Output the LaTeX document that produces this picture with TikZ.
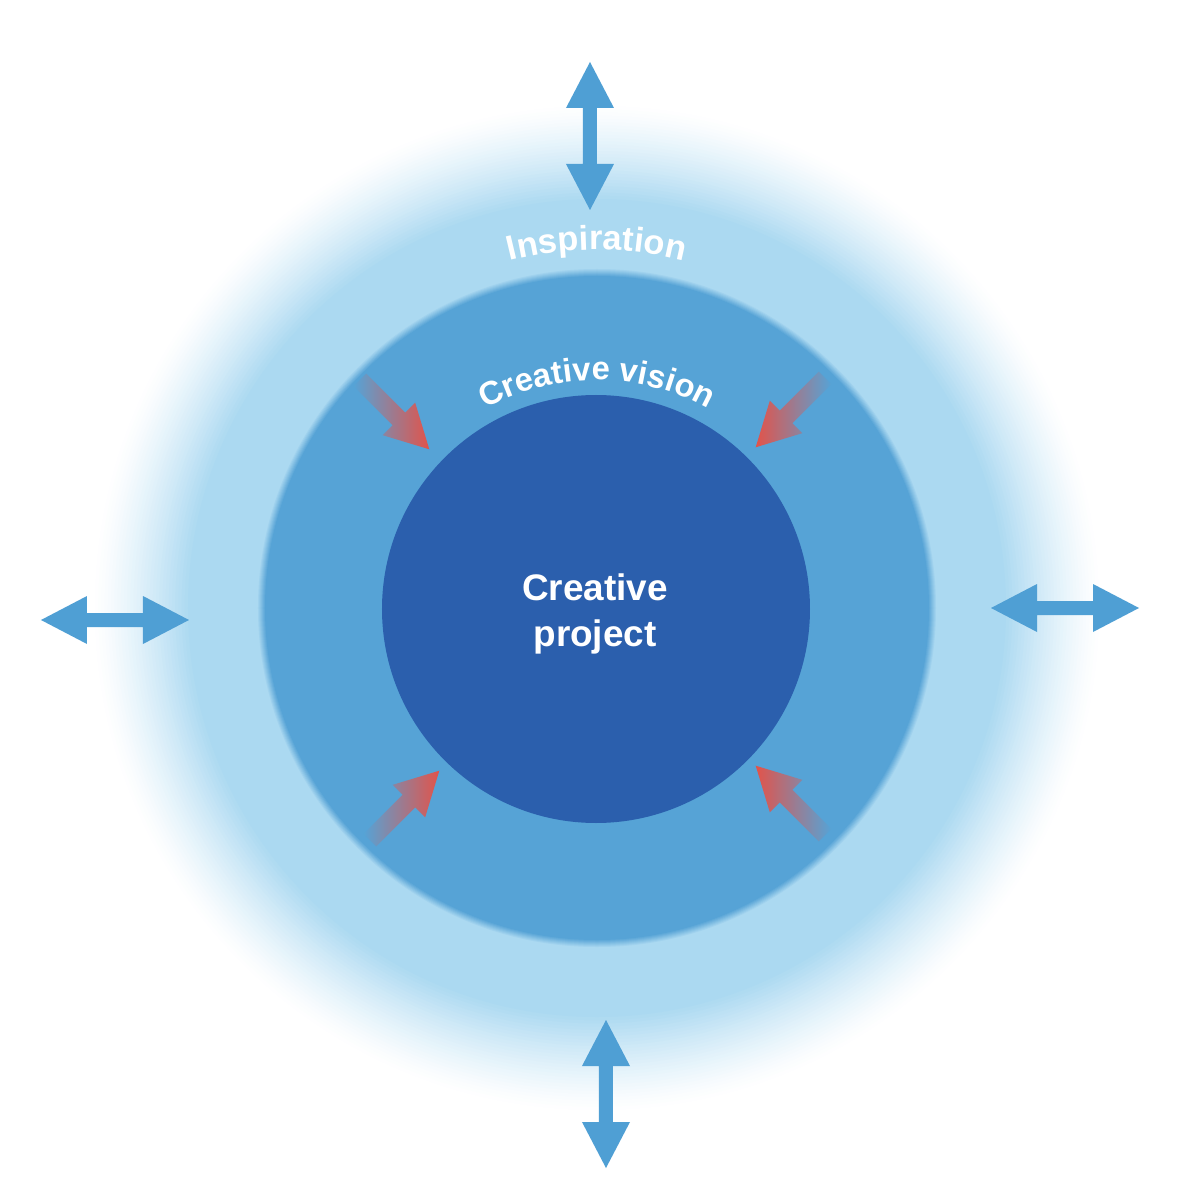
\documentclass[tikz,border=0pt]{standalone}
\usepackage{fontspec}
\setmainfont{Liberation Sans}
\usetikzlibrary{decorations.text}
\definecolor{lb}{HTML}{ABD9F1}
\definecolor{mid}{HTML}{56A3D6}
\definecolor{deep}{HTML}{2B5FAD}
\definecolor{arr}{HTML}{4F9FD4}
\definecolor{red}{HTML}{E2534A}
\newcommand{\lblfont}{\bfseries\fontsize{9.8}{11}\selectfont}
\newcommand{\visfont}{\bfseries\fontsize{9.3}{11}\selectfont}
\begin{document}
\begin{tikzpicture}[x=0.01cm,y=0.01cm,
  dbl/.pic={\fill[arr] (-74,0)--(-28,24)--(-28,7)--(28,7)--(28,24)--(74,0)--(28,-24)--(28,-7)--(-28,-7)--(-28,-24)--cycle;},
  redR/.pic={\shade[left color=mid, right color=red] (0,-9)--(55,-9)--(55,-23)--(98,0)--(55,23)--(55,9)--(0,9)--cycle;},
  redL/.pic={\shade[left color=red, right color=mid] (0,-9)--(55,-9)--(55,-23)--(98,0)--(55,23)--(55,9)--(0,9)--cycle;}]
\useasboundingbox (-597,-592) rectangle (603,608);
\fill[white] (-597,-592) rectangle (603,608);
\foreach \i in {0,...,30} {
  \pgfmathsetmacro{\rr}{505-3.2*\i}
  \pgfmathsetmacro{\pp}{100*(\i/30)^1.3}
  \fill[lb!\pp!white] (0,0) circle[radius=\rr];
}
\foreach \i in {0,...,8} {
  \pgfmathsetmacro{\rr}{340-1*\i}
  \pgfmathsetmacro{\pp}{100*\i/8}
  \fill[mid!\pp!lb] (0,0) circle[radius=\rr];
}
\fill[deep] (-1,-1) circle[radius=214];
\node[text=white, align=center, font=\bfseries\fontsize{10.5}{13}\selectfont] (proj) at (-2,-6) {Creative\\project};
\path[decorate, decoration={text along path, text align=center, text color=white, text format delimiters={|}{|}, text={|\lblfont|Inspiration}}] (160:358) arc[start angle=160, end angle=20, radius=358];
\path[decorate, decoration={text along path, text align=center, text color=white, text format delimiters={|}{|}, text={|\visfont|Creative vision}}] (150:228) arc[start angle=150, end angle=30, radius=228];
\pic[rotate=90] at (-7,472) {dbl};
\pic[rotate=90] at (9,-486) {dbl};
\pic at (-482,-12) {dbl};
\pic at (468,0) {dbl};
\pic[shift={(-237,228)}, rotate=-45] {redR};
\pic[shift={(228,230)}, rotate=-135] {redL};
\pic[shift={(-227,-232)}, rotate=45] {redR};
\pic[shift={(228,-227)}, rotate=135] {redL};
\end{tikzpicture}
\end{document}
